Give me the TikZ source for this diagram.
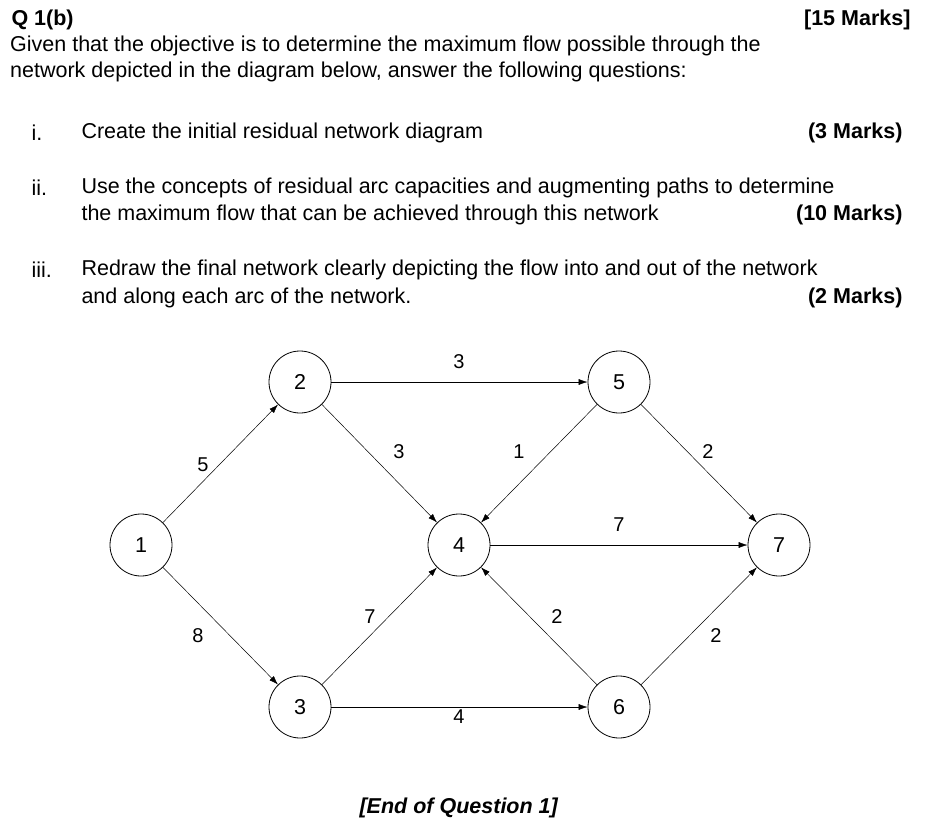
\documentclass[tikz,border=0pt]{standalone}
\usepackage{fontspec}
\setmainfont{Liberation Sans}
\usetikzlibrary{arrows.meta}
\begin{document}
\begin{tikzpicture}[x=1pt, y=-1pt, font=\fontsize{21.5}{26}\selectfont,
  vtx/.style={draw, circle, minimum size=62pt, inner sep=0pt, line width=0.8pt},
  arc/.style={-{Latex[length=9pt,width=6pt]}, line width=0.5pt},
  capa/.style={font=\fontsize{20}{24}\selectfont}]
\useasboundingbox (0,0) rectangle (934,835);

\node[anchor=west] (q) at (8,20) {\textbf{Q 1(b)}};
\node[anchor=east] (marks) at (914,20) {\textbf{[15 Marks]}};
\node[anchor=north west, text width=902pt, align=justify, inner sep=0pt] (intro) at (10,36)
  {Given that the objective is to determine the maximum flow possible through the\hfill\hbox{}\linebreak network depicted in the diagram below, answer the following questions:};

\node[anchor=west] (ia) at (28,133) {i.};
\node[anchor=west] (ib) at (78,133) {Create the initial residual network diagram};
\node[anchor=east] (ic) at (906,133) {\textbf{(3 Marks)}};
\node[anchor=west] (iia) at (28,188) {ii.};
\node[anchor=west] (iib) at (78,188) {Use the concepts of residual arc capacities and augmenting paths to determine};
\node[anchor=west] (iic) at (78,215) {the maximum flow that can be achieved through this network};
\node[anchor=east] (iid) at (906,215) {\textbf{(10 Marks)}};
\node[anchor=west] (iiia) at (28,270) {iii.};
\node[anchor=west] (iiib) at (78,270) {Redraw the final network clearly depicting the flow into and out of the network};
\node[anchor=west] (iiic) at (78,298) {and along each arc of the network.};
\node[anchor=east] (iiid) at (906,298) {\textbf{(2 Marks)}};

% network
\node[vtx] (n1) at (141,545) {1};
\node[vtx] (n2) at (300,382) {2};
\node[vtx] (n3) at (300,707) {3};
\node[vtx] (n4) at (459,545) {4};
\node[vtx] (n5) at (619,382) {5};
\node[vtx] (n6) at (619,707) {6};
\node[vtx] (n7) at (779,545) {7};

\draw[arc] (n1) -- (n2);
\draw[arc] (n1) -- (n3);
\draw[arc] (n2) -- (n5);
\draw[arc] (n2) -- (n4);
\draw[arc] (n3) -- (n4);
\draw[arc] (n3) -- (n6);
\draw[arc] (n5) -- (n4);
\draw[arc] (n6) -- (n4);
\draw[arc] (n4) -- (n7);
\draw[arc] (n5) -- (n7);
\draw[arc] (n6) -- (n7);

\node[capa] (c25) at (459,362) {3};
\node[capa] (c12) at (203,465) {5};
\node[capa] (c24) at (399,452) {3};
\node[capa] (c54) at (519,452) {1};
\node[capa] (c57) at (708,452) {2};
\node[capa] (c47) at (619,525) {7};
\node[capa] (c13) at (198,636) {8};
\node[capa] (c34) at (370,617) {7};
\node[capa] (c64) at (557,617) {2};
\node[capa] (c67) at (716,636) {2};
\node[capa] (c36) at (459,717) {4};

\node (endq) at (459,808) {\textbf{\textit{[End of Question 1]}}};
\end{tikzpicture}
\end{document}
